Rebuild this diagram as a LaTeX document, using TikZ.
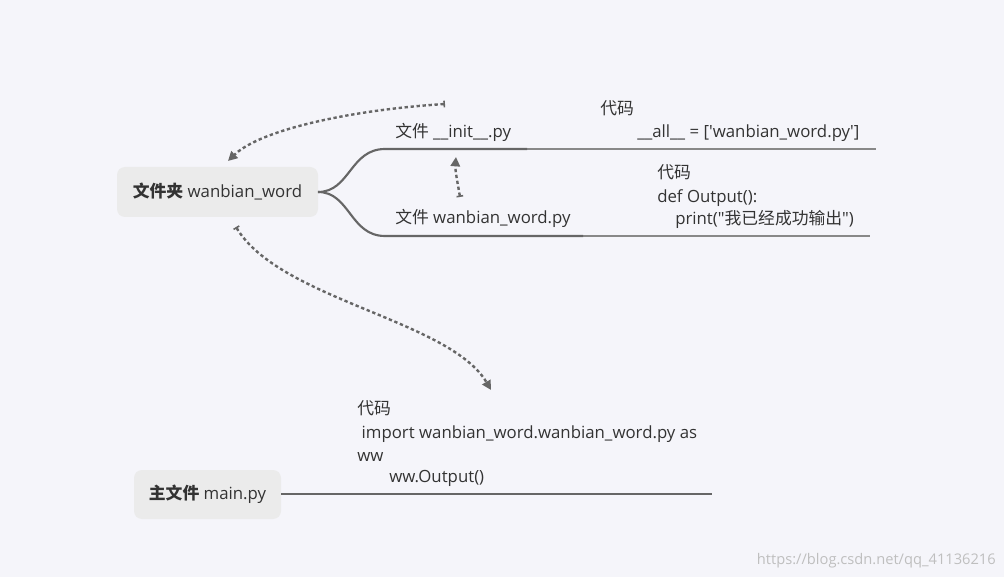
\documentclass[tikz,border=0pt]{standalone}
\usepackage{fontspec}
\setmainfont{Open Sans}
\newfontfamily\cjk{Noto Sans CJK SC}
\usetikzlibrary{arrows.meta}
\definecolor{bg}{HTML}{F5F5FA}
\definecolor{boxc}{HTML}{EBEBEB}
\definecolor{txt}{HTML}{333333}
\definecolor{ln}{HTML}{666666}
\definecolor{lnl}{HTML}{888888}
\tikzset{
  box/.style={fill=boxc,rounded corners=6pt,text=txt,font=\fontsize{12.6}{14}\selectfont,inner sep=0pt},
  lbl/.style={anchor=base west,text=txt,font=\fontsize{12.6}{14}\selectfont,inner sep=0pt},
  branch/.style={draw=ln,line width=1.6pt},
  thin/.style={draw=lnl,line width=1pt},
  rel/.style={draw=ln,line width=1.8pt,dash pattern=on 2.5pt off 2pt,{Bar[width=5pt,line width=1.2pt]}-{Triangle[length=7pt,width=7pt]}}
}
\begin{document}
\begin{tikzpicture}[x=0.75pt,y=-0.75pt]
\fill[bg] (0,0) rectangle (1004,577);
\node[box,minimum width=150.75pt,minimum height=37.5pt] (folder) at (217.5,192) {{\cjk\bfseries 文件夹} wanbian\_word};
\node[box,minimum width=110.25pt,minimum height=36.75pt] (main) at (207.5,494.5) {{\cjk\bfseries 主文件} main.py};
\coordinate (fr) at (318,192);
\coordinate (a1) at (385,149); \coordinate (a2) at (527,149); \coordinate (a3) at (876,149);
\coordinate (b1) at (385,236); \coordinate (b2) at (583,236); \coordinate (b3) at (870,236);
\coordinate (mr) at (281,494); \coordinate (m2) at (712,494);
\draw[thin] (a2) -- (a3);
\draw[thin] (b2) -- (b3);
\draw[branch] (fr) .. controls (350,192) and (350,149) .. (a1) -- (a2);
\draw[branch] (fr) .. controls (350,192) and (350,236) .. (b1) -- (b2);
\draw[branch] (mr) -- (m2);
\node[lbl] (t1) at (395,138) {{\cjk 文件} \_\_init\_\_.py};
\node[lbl] (t2) at (395,224) {{\cjk 文件} wanbian\_word.py};
\node[lbl] (c1) at (600,115) {\cjk 代码};
\node[lbl] (c1b) at (637,138) {\_\_all\_\_ = [\textquotesingle wanbian\_word.py\textquotesingle]};
\node[lbl] (c2) at (657,179) {\cjk 代码};
\node[lbl] (c2b) at (657,203) {def Output():};
\node[lbl] (c2c) at (675,225) {print(\textquotedbl{\cjk 我已经成功输出}\textquotedbl)};
\node[lbl] (c3) at (357,415) {\cjk 代码};
\node[lbl] (c3b) at (357,439) {\ import wanbian\_word.wanbian\_word.py as};
\node[lbl] (c3c) at (357,461) {ww};
\node[lbl] (c3d) at (389,483) {ww.Output()};
\node[anchor=base east,text=black!25,font=\fontsize{11}{13}\selectfont,inner sep=0pt] (wm) at (996,564) {https://blog.csdn.net/qq\_41136216};
\coordinate (p1) at (445,104); \coordinate (p2) at (228,161);
\coordinate (q1) at (460,197); \coordinate (q2) at (456,157);
\coordinate (r1) at (236,227); \coordinate (r2) at (491,390);
\draw[rel] (p1) .. controls (350,110) and (260,130) .. (p2);
\draw[rel] (q1) .. controls (458,185) and (455,170) .. (q2);
\draw[rel] (r1) .. controls (280,300) and (450,320) .. (r2);
\end{tikzpicture}
\end{document}
